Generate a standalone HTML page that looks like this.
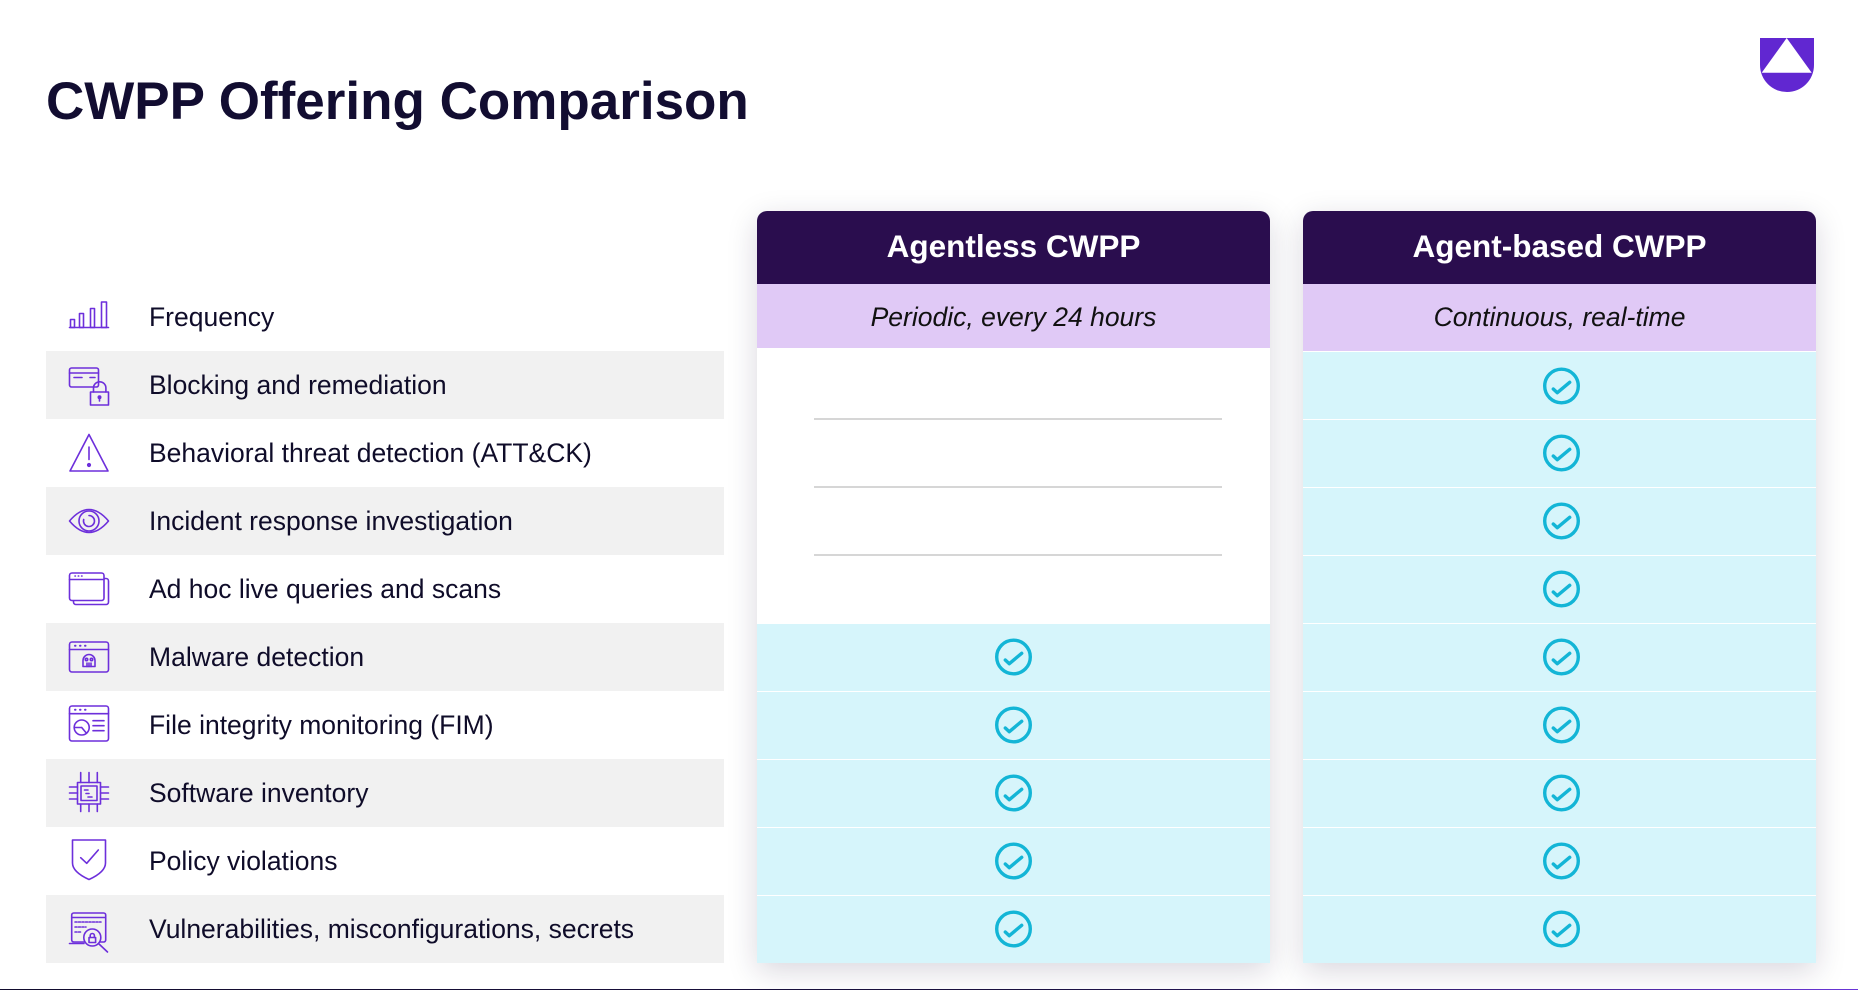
<!DOCTYPE html>
<html>
<head>
<meta charset="utf-8">
<style>
  html, body { margin:0; padding:0; }
  body { width:1858px; height:990px; position:relative; overflow:hidden; background:#ffffff; font-family:"Liberation Sans", Arial, sans-serif; }
  .title { position:absolute; left:46px; top:72px; font-size:53px; line-height:60px; font-weight:bold; color:#120d31; white-space:nowrap; }
  .row { position:absolute; left:46px; width:678px; height:68px; }
  .row.g { background:#f1f1f1; }
  .lbl { position:absolute; left:149px; font-size:26.5px; line-height:68px; height:68px; color:#0f0c29; white-space:nowrap; }
  .col { position:absolute; top:211px; width:513px; height:752px; border-radius:10px 10px 0 0; background:#ffffff; box-shadow:0 8px 30px rgba(30,20,60,0.17); overflow:hidden; }
  .hdr { position:absolute; left:0; top:0; width:100%; height:73px; background:#2a0d4e; color:#ffffff; font-weight:bold; font-size:31.5px; line-height:70px; text-align:center; white-space:nowrap; }
  .sub { position:absolute; left:0; top:73px; width:100%; background:#e0c9f6; }
  .subtxt { position:absolute; left:0; width:100%; top:72px; height:68px; line-height:68px; font-size:26.5px; font-style:italic; text-align:center; color:#111111; white-space:nowrap; }
  .cy { position:absolute; left:0; width:100%; height:66.5px; background:#d6f5fb; }
  .gl { position:absolute; left:57px; width:408px; height:2px; background:#d6d6d6; }
  .bottomline { position:absolute; left:0; top:988.5px; width:1858px; height:1.5px; background:linear-gradient(to right, #120c2e 0%, #1a1040 55%, #2e1a66 75%, #6a35d8 100%); }
</style>
</head>
<body>

<div class="title">CWPP Offering Comparison</div>

<!-- left feature rows -->
<div class="row" style="top:283px"></div>
<div class="row g" style="top:351px"></div>
<div class="row" style="top:419px"></div>
<div class="row g" style="top:487px"></div>
<div class="row" style="top:555px"></div>
<div class="row g" style="top:623px"></div>
<div class="row" style="top:691px"></div>
<div class="row g" style="top:759px"></div>
<div class="row" style="top:827px"></div>
<div class="row g" style="top:895px"></div>

<div class="lbl" style="top:283px">Frequency</div>
<div class="lbl" style="top:351px">Blocking and remediation</div>
<div class="lbl" style="top:419px">Behavioral threat detection (ATT&amp;CK)</div>
<div class="lbl" style="top:487px">Incident response investigation</div>
<div class="lbl" style="top:555px">Ad hoc live queries and scans</div>
<div class="lbl" style="top:623px">Malware detection</div>
<div class="lbl" style="top:691px">File integrity monitoring (FIM)</div>
<div class="lbl" style="top:759px">Software inventory</div>
<div class="lbl" style="top:827px">Policy violations</div>
<div class="lbl" style="top:895px">Vulnerabilities, misconfigurations, secrets</div>

<!-- Agentless column -->
<div class="col" style="left:757px;">
  <div class="hdr">Agentless CWPP</div>
  <div class="sub" style="height:64px"></div>
  <div class="subtxt">Periodic, every 24 hours</div>
  <div class="gl" style="top:207px"></div>
  <div class="gl" style="top:275px"></div>
  <div class="gl" style="top:343px"></div>
  <div class="cy" style="top:413px"></div>
  <div class="cy" style="top:481px"></div>
  <div class="cy" style="top:549px"></div>
  <div class="cy" style="top:617px"></div>
  <div class="cy" style="top:685px"></div>
</div>

<!-- Agent-based column -->
<div class="col" style="left:1303px;">
  <div class="hdr">Agent-based CWPP</div>
  <div class="sub" style="height:67px"></div>
  <div class="subtxt">Continuous, real-time</div>
  <div class="cy" style="top:141px"></div>
  <div class="cy" style="top:209px"></div>
  <div class="cy" style="top:277px"></div>
  <div class="cy" style="top:345px"></div>
  <div class="cy" style="top:413px"></div>
  <div class="cy" style="top:481px"></div>
  <div class="cy" style="top:549px"></div>
  <div class="cy" style="top:617px"></div>
  <div class="cy" style="top:685px"></div>
</div>

<div class="bottomline"></div>

<svg width="1858" height="990" viewBox="0 0 1858 990" style="position:absolute;left:0;top:0" xmlns="http://www.w3.org/2000/svg">
  <!-- logo -->
  <path d="M1760 38 H1814 V65 A27 27 0 0 1 1760 65 Z" fill="#6127d1"/>
  <path d="M1786.7 38 L1811.7 72.7 L1761.7 72.7 Z" fill="#ffffff"/>

  <!-- icons -->
  <g fill="none" stroke="#6d2fdb" stroke-width="1.6" stroke-linejoin="round" stroke-linecap="round">
    <!-- Frequency -->
    <path d="M69.5 327.5 H108.5"/>
    <rect x="70.5" y="319.5" width="4" height="8"/>
    <rect x="79.5" y="313.5" width="4" height="14"/>
    <rect x="90.5" y="308.5" width="4" height="19"/>
    <rect x="101.5" y="302" width="5" height="25.5"/>

    <!-- Blocking -->
    <rect x="69.5" y="368" width="29" height="19" rx="2"/>
    <path d="M69.5 373 H98.5"/>
    <path d="M74 377.5 H82 M90 377.5 H95"/>
    <rect x="90.5" y="392" width="18" height="13" fill="#f1f1f1"/>
    <path d="M93.5 392 V388 a6.2 6.2 0 0 1 12.4 0 V392"/>
    <circle cx="99.5" cy="397.3" r="1.2" fill="#6d2fdb"/>
    <path d="M99.5 398 V401"/>

    <!-- Triangle -->
    <path d="M89 434.5 L108 471 H70 Z"/>
    <path d="M89 447 V459.5"/>
    <circle cx="89" cy="465" r="1.3" fill="#6d2fdb"/>

    <!-- Eye -->
    <path d="M69.5 521 Q89 498 108.5 521 Q89 544 69.5 521 Z"/>
    <circle cx="89" cy="521" r="10"/>
    <path d="M89 515.5 a5.5 5.5 0 1 1 -5.3 4"/>

    <!-- Ad hoc -->
    <path d="M104 578.5 H106 a2.5 2.5 0 0 1 2.5 2.5 V602 a2.5 2.5 0 0 1 -2.5 2.5 H76 a2.5 2.5 0 0 1 -2.5 -2.5 V600.5"/>
    <rect x="69.5" y="573" width="34.5" height="27.5" rx="2.5" fill="#ffffff"/>
    <path d="M69.5 579.5 H104"/>
    <path d="M75 576 h0.4 M78.3 576 h0.4 M81.6 576 h0.4"/>

    <!-- Malware -->
    <rect x="69.5" y="642" width="39" height="30" rx="2.5"/>
    <path d="M69.5 649.5 H108.5"/>
    <path d="M75 645.8 h0.5 M80 645.8 h0.5 M85 645.8 h0.5" stroke-width="2"/>
    <path d="M83 666.5 V660.5 a6 6 0 0 1 12 0 V666.5 Z"/>
    <path d="M87 663 V666.5 M89 663 V666.5 M91 663 V666.5"/>
    <circle cx="86.5" cy="659.5" r="1.2"/>
    <circle cx="91.5" cy="659.5" r="1.2"/>

    <!-- FIM -->
    <rect x="69.5" y="706" width="39" height="35" rx="2.5"/>
    <path d="M69.5 713.7 H108.5"/>
    <path d="M75 709.8 h0.5 M80 709.8 h0.5 M85 709.8 h0.5" stroke-width="2"/>
    <circle cx="81.7" cy="727.5" r="7.5"/>
    <path d="M81.7 727.5 H74.2 M81.7 727.5 L86.5 733.3"/>
    <path d="M93 720.7 H104 M93 725.7 H104 M93 730.7 H104"/>

    <!-- Chip -->
    <rect x="77.5" y="782.5" width="23" height="21.5"/>
    <rect x="81" y="786" width="16" height="14.5"/>
    <path d="M80.7 772.5 V782.5 M89 772.5 V782.5 M97.3 772.5 V782.5"/>
    <path d="M80.7 804 V811.5 M89 804 V811.5 M97.3 804 V811.5"/>
    <path d="M69.5 787 H77.5 M69.5 793 H77.5 M69.5 799 H77.5"/>
    <path d="M100.5 787 H108.5 M100.5 793 H108.5 M100.5 799 H108.5"/>
    <path d="M84.5 790 H88 M86 793.5 H89 M88 797 H92"/>

    <!-- Shield -->
    <path d="M72.5 840 H105.5 V863 Q105.5 872 89 879.5 Q72.5 872 72.5 863 Z"/>
    <path d="M80.7 857.7 L86.7 863.3 L98.3 850"/>

    <!-- Vulnerabilities -->
    <rect x="71.7" y="913" width="34" height="29" rx="2"/>
    <path d="M71.7 917.5 H105.7"/>
    <path d="M75 922 H101 M75 927 H86 M75 932 H82" stroke-dasharray="2 1.5"/>
    <path d="M69.5 943.5 H84"/>
    <circle cx="92.3" cy="937.5" r="8.5" fill="#f1f1f1"/>
    <path d="M98.5 943.5 L107.5 952"/>
    <rect x="89" y="937.5" width="6.6" height="5"/>
    <path d="M90.2 937.5 V935.6 a2.1 2.1 0 0 1 4.2 0 V937.5"/>
  </g>

  <!-- checkmarks -->
  <g fill="none" stroke="#13b5d6" stroke-width="3.4" stroke-linecap="round" stroke-linejoin="round">
    <!-- left column -->
    <g transform="translate(1013.5 657)"><circle r="16.8"/><path d="M-8.2 3 L-4.2 6.7 L8.2 -3.7"/></g>
    <g transform="translate(1013.5 725)"><circle r="16.8"/><path d="M-8.2 3 L-4.2 6.7 L8.2 -3.7"/></g>
    <g transform="translate(1013.5 793)"><circle r="16.8"/><path d="M-8.2 3 L-4.2 6.7 L8.2 -3.7"/></g>
    <g transform="translate(1013.5 861)"><circle r="16.8"/><path d="M-8.2 3 L-4.2 6.7 L8.2 -3.7"/></g>
    <g transform="translate(1013.5 929)"><circle r="16.8"/><path d="M-8.2 3 L-4.2 6.7 L8.2 -3.7"/></g>
    <!-- right column -->
    <g transform="translate(1561.5 386)"><circle r="16.8"/><path d="M-8.2 3 L-4.2 6.7 L8.2 -3.7"/></g>
    <g transform="translate(1561.5 453)"><circle r="16.8"/><path d="M-8.2 3 L-4.2 6.7 L8.2 -3.7"/></g>
    <g transform="translate(1561.5 521)"><circle r="16.8"/><path d="M-8.2 3 L-4.2 6.7 L8.2 -3.7"/></g>
    <g transform="translate(1561.5 589)"><circle r="16.8"/><path d="M-8.2 3 L-4.2 6.7 L8.2 -3.7"/></g>
    <g transform="translate(1561.5 657)"><circle r="16.8"/><path d="M-8.2 3 L-4.2 6.7 L8.2 -3.7"/></g>
    <g transform="translate(1561.5 725)"><circle r="16.8"/><path d="M-8.2 3 L-4.2 6.7 L8.2 -3.7"/></g>
    <g transform="translate(1561.5 793)"><circle r="16.8"/><path d="M-8.2 3 L-4.2 6.7 L8.2 -3.7"/></g>
    <g transform="translate(1561.5 861)"><circle r="16.8"/><path d="M-8.2 3 L-4.2 6.7 L8.2 -3.7"/></g>
    <g transform="translate(1561.5 929)"><circle r="16.8"/><path d="M-8.2 3 L-4.2 6.7 L8.2 -3.7"/></g>
  </g>
</svg>

</body>
</html>
